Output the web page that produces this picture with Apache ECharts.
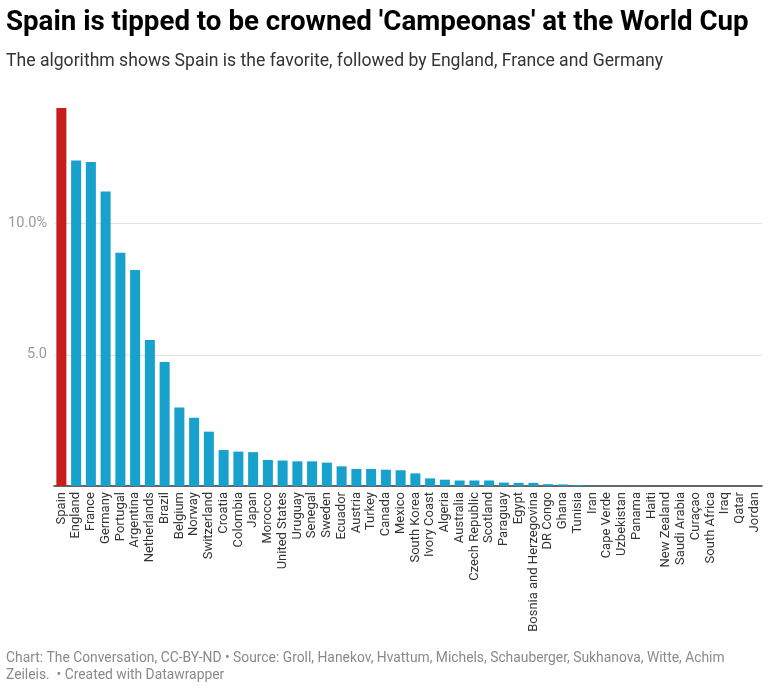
<!DOCTYPE html>
<html>
<head>
<meta charset="utf-8">
<script src="https://cdn.jsdelivr.net/npm/echarts@6/dist/echarts.min.js"></script>
<style>
  html, body { margin: 0; padding: 0; background: #fff; }
  #chart { width: 768px; height: 691px; }
</style>
</head>
<body>
<div id="chart"></div>
<script>
  // teams, in order of chance to win
  const teams = ['Spain', 'England', 'France', 'Germany', 'Portugal', 'Argentina', 'Netherlands', 'Brazil',
    'Belgium', 'Norway', 'Switzerland', 'Croatia', 'Colombia', 'Japan', 'Morocco', 'United States',
    'Uruguay', 'Senegal', 'Sweden', 'Ecuador', 'Austria', 'Turkey', 'Canada', 'Mexico', 'South Korea',
    'Ivory Coast', 'Algeria', 'Australia', 'Czech Republic', 'Scotland', 'Paraguay', 'Egypt',
    'Bosnia and Herzegovina', 'DR Congo', 'Ghana', 'Tunisia', 'Iran', 'Cape Verde', 'Uzbekistan',
    'Panama', 'Haiti', 'New Zealand', 'Saudi Arabia', 'Curaçao', 'South Africa', 'Iraq', 'Qatar', 'Jordan'];
  // win probability in %
  const winChance = [14.4, 12.4, 12.34, 11.22, 8.89, 8.23, 5.56, 4.72,
    2.99, 2.6, 2.07, 1.37, 1.31, 1.29, 0.99, 0.97,
    0.94, 0.94, 0.89, 0.75, 0.65, 0.65, 0.62, 0.6, 0.48,
    0.29, 0.24, 0.21, 0.21, 0.21, 0.13, 0.12,
    0.12, 0.07, 0.06, 0.04, 0.01, 0.01, 0.01,
    0.01, 0, 0, 0, 0, 0, 0, 0, 0];
  const highlight = 'Spain';

  const chart = echarts.init(document.getElementById('chart'));

  const option = {
    backgroundColor: '#fff',
    textStyle: { fontFamily: 'Roboto' },
    title: [
      {
        text: "Spain is tipped to be crowned 'Campeonas' at the World Cup",
        left: 6, top: 9, padding: 0,
        textStyle: { fontSize: 27.7, fontWeight: 'bold', color: '#000', fontFamily: 'Roboto' }
      },
      {
        text: 'The algorithm shows Spain is the favorite, followed by England, France and Germany',
        left: 6, top: 53, padding: 0,
        textStyle: { fontSize: 17.6, fontWeight: 'normal', color: '#333', fontFamily: 'Roboto' }
      },
      {
        text: 'Chart: The Conversation, CC-BY-ND • Source: Groll, Hanekov, Hvattum, Michels, Schauberger, Sukhanova, Witte, Achim\nZeileis.  • Created with Datawrapper',
        left: 6, top: 650, padding: 0,
        textStyle: {
          fontSize: 13.85, fontWeight: 'normal', color: '#8a8a8a', lineHeight: 17,
          fontFamily: 'Roboto'
        }
      }
    ],
    grid: { left: 54, right: 6, top: 108, bottom: 205, containLabel: false },
    xAxis: {
      type: 'category',
      data: teams,
      axisTick: { show: false },
      axisLine: { lineStyle: { color: '#333', width: 1.5 } },
      axisLabel: {
        interval: 0, rotate: 90, fontSize: 13, color: '#333', margin: 6
      }
    },
    yAxis: {
      type: 'value',
      min: 0, max: 14.4, interval: 5,
      axisLine: { show: false },
      axisTick: { show: false },
      splitLine: { showMinLine: false, showMaxLine: false, lineStyle: { color: '#e2e2e2' } },
      axisLabel: {
        showMinLabel: false, showMaxLabel: false,
        fontSize: 14.5, color: '#9a9a9a', margin: 7,
        formatter: function (v) { return v === 10 ? '10.0%' : v.toFixed(1); }
      }
    },
    series: [{
      type: 'bar',
      data: winChance.map(function (v, i) {
        return {
          value: v,
          itemStyle: { color: teams[i] === highlight ? '#c71e1d' : '#18a1cd' }
        };
      }),
      barCategoryGap: '32%',
      animation: false
    }]
  };

  chart.setOption(option);
</script>
</body>
</html>
